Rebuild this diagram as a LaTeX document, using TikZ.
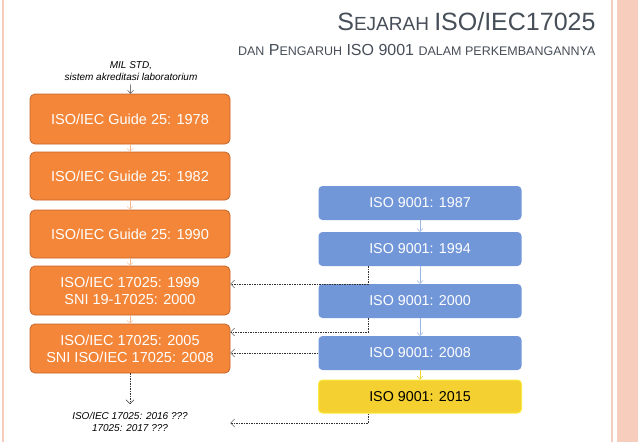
\documentclass[tikz,border=0pt]{standalone}
\usepackage{fontspec}
\setmainfont{Liberation Sans}
\usetikzlibrary{arrows.meta}
\definecolor{org}{RGB}{243,134,56}
\definecolor{orgd}{RGB}{200,100,40}
\definecolor{blu}{RGB}{114,151,216}
\definecolor{yel}{RGB}{244,208,48}
\definecolor{yeld}{RGB}{250,235,60}
\definecolor{pinkb}{RGB}{247,205,190}
\definecolor{ttl}{RGB}{70,78,88}
\tikzset{
 obox/.style={draw=orgd,fill=org,rounded corners=5pt,minimum width=200pt,text=white,font=\fontsize{14.5}{17}\selectfont,align=center,line width=0.8pt},
 bbox/.style={fill=blu,rounded corners=4pt,minimum width=203pt,minimum height=34pt,text=white,font=\fontsize{14.3}{17}\selectfont},
 oarr/.style={-{Straight Barb[length=3pt]},draw=org!60,thin},
 barr/.style={-{Straight Barb[length=3pt]},draw=blu!70,thin},
 darr/.style={-{Straight Barb[length=4pt]},dashed,dash pattern=on 1.5pt off 1pt,black!80,thin},
 note/.style={font=\itshape\fontsize{10}{11.5}\selectfont,align=center}
}
\begin{document}
\begin{tikzpicture}[x=1pt,y=-1pt]
\useasboundingbox (0,0) rectangle (638,442);
\fill[white] (0,0) rectangle (638,442);
\fill[pinkb] (617,0) rectangle (638,442);
\draw[pinkb,line width=1.5pt] (3,0)--(3,442) (612,0)--(612,442);
\node[anchor=east,text=ttl,font=\fontsize{25}{30}\selectfont] (t1) at (599,22) {S\fontsize{19}{22}\selectfont EJARAH \fontsize{25}{30}\selectfont ISO/IEC17025};
\node[anchor=east,text=ttl,font=\fontsize{16}{19}\selectfont] (t2) at (599,50) {{\fontsize{12.5}{15}\selectfont DAN} P{\fontsize{12.5}{15}\selectfont ENGARUH} ISO 9001 {\fontsize{12.5}{15}\selectfont DALAM PERKEMBANGANNYA}};
\node[note] (mil) at (131,71) {MIL STD,\\sistem akreditasi laboratorium};
\node[obox,minimum height=50pt] (g78) at (130,119) {ISO/IEC Guide 25: 1978};
\node[obox,minimum height=48pt] (g82) at (130,176) {ISO/IEC Guide 25: 1982};
\node[obox,minimum height=48pt] (g90) at (130,234) {ISO/IEC Guide 25: 1990};
\node[obox,minimum height=49pt] (i99) at (130,290.5) {ISO/IEC 17025: 1999\\SNI 19-17025: 2000};
\node[obox,minimum height=49pt] (i05) at (130,348.5) {ISO/IEC 17025: 2005\\SNI ISO/IEC 17025: 2008};
\node[note] (fut) at (130,422) {ISO/IEC 17025: 2016 ???\\17025: 2017 ???};
\node[bbox] (b87) at (420,203) {ISO 9001: 1987};
\node[bbox] (b94) at (420,249) {ISO 9001: 1994};
\node[bbox] (b00) at (420,301) {ISO 9001: 2000};
\node[bbox] (b08) at (420,353) {ISO 9001: 2008};
\node[bbox,fill=yel,draw=yeld,line width=1pt,text=black,minimum height=33pt] (b15) at (420,396.5) {ISO 9001: 2015};
\draw[-{Straight Barb[length=3pt]},thin,black!80] (mil) -- (g78);
\draw[oarr] (g78)--(g82); \draw[oarr] (g82)--(g90); \draw[oarr] (g90)--(i99); \draw[oarr] (i99)--(i05);
\draw[barr] (b87)--(b94); \draw[barr] (b94)--(b00); \draw[barr] (b00)--(b08);
\draw[-{Straight Barb[length=3pt]},draw=yel] (b08)--(b15);
\draw[darr] (b94.south -| 368,0) |- (i99.east |- 0,284);
\draw[darr] (b00.south -| 368,0) |- (i05.east |- 0,332);
\draw[darr] (b08.west) -- (i05.east |- b08.west);
\draw[darr] (b15.south -| 368,0) |- (i05.east |- 0,423);
\draw[darr] (i05.south) -- (130,404);
\end{tikzpicture}
\end{document}
